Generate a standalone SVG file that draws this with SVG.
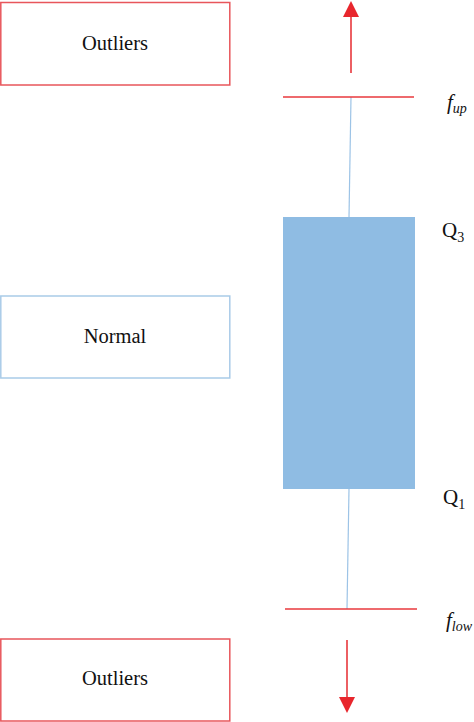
<svg xmlns="http://www.w3.org/2000/svg" width="474" height="722" viewBox="0 0 474 722">
<style>
.lbl{font-family:"Liberation Serif","Times New Roman",serif;font-size:20.5px;fill:#111;text-anchor:middle}
.math{font-family:"Liberation Serif","Times New Roman",serif;font-size:21px;fill:#111}
.sub{font-size:14px}
.red{stroke:#e8383d;stroke-width:1.6;fill:none}
.whisk{stroke:#9cc3e6;stroke-width:1.2;fill:none}
</style>
<defs>
<marker id="ah" viewBox="0 0 10 10" refX="0" refY="5" markerWidth="16" markerHeight="16" markerUnits="userSpaceOnUse" orient="auto">
<path d="M0,0 L10,5 L0,10 z" fill="#e8262d"/>
</marker>
</defs>
<rect width="474" height="722" fill="#fff"/>
<g id="outliers-top">
<rect x="0.8" y="2.5" width="229" height="82.5" fill="#fff" stroke="#e8565b" stroke-width="1.5"/>
<text class="lbl" x="115" y="50">Outliers</text>
</g>
<g id="normal">
<rect x="0.8" y="296" width="229" height="82" fill="#fff" stroke="#a9cbe8" stroke-width="1.5"/>
<text class="lbl" x="115" y="343">Normal</text>
</g>
<g id="outliers-bottom">
<rect x="0.8" y="639" width="229" height="82" fill="#fff" stroke="#e8565b" stroke-width="1.5"/>
<text class="lbl" x="115" y="685">Outliers</text>
</g>
<g id="box">
<rect x="283" y="217" width="132" height="272" fill="#8fbce3"/>
</g>
<g id="connectors">
<line class="whisk" x1="351" y1="97" x2="349" y2="217"/>
<line class="whisk" x1="349" y1="489" x2="347" y2="609"/>
<line class="red" x1="283" y1="97" x2="414" y2="97"/>
<line class="red" x1="285" y1="609" x2="417" y2="609"/>
<line class="red" x1="351" y1="73" x2="351" y2="17" marker-end="url(#ah)"/>
<line class="red" x1="347" y1="640" x2="347" y2="697" marker-end="url(#ah)"/>
</g>
<g id="labels">
<text class="math" x="447" y="109"><tspan font-style="italic">f</tspan><tspan class="sub" font-style="italic" dy="4">up</tspan></text>
<text class="math" x="442" y="237">Q<tspan class="sub" dy="5">3</tspan></text>
<text class="math" x="443" y="504">Q<tspan class="sub" dy="5">1</tspan></text>
<text class="math" x="446" y="627"><tspan font-style="italic">f</tspan><tspan class="sub" font-style="italic" dy="4">low</tspan></text>
</g>
</svg>
